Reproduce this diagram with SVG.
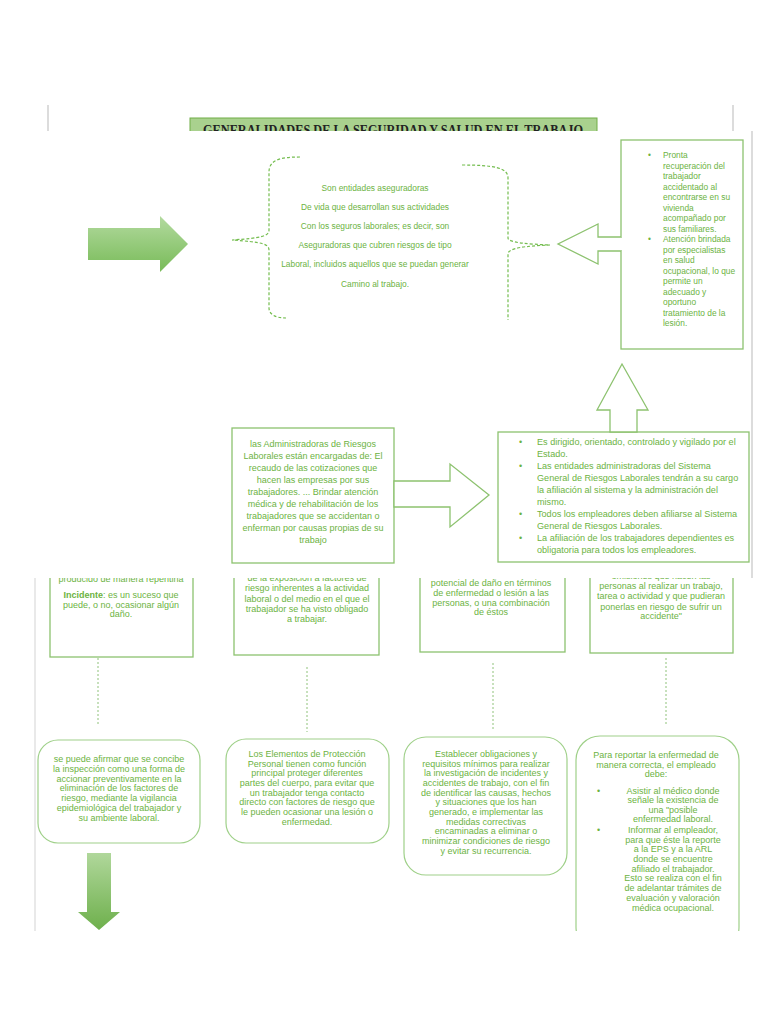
<svg xmlns="http://www.w3.org/2000/svg" width="768" height="1024" viewBox="0 0 768 1024">
<defs>
<style>
.t{font-family:"Liberation Sans",Arial,sans-serif;fill:#6cb33f;text-anchor:middle}
.tl{font-family:"Liberation Sans",Arial,sans-serif;fill:#6cb33f;text-anchor:start}
.box{fill:#fff;stroke:#8dc26f;stroke-width:1.3}
.rbox{fill:#fff;stroke:#9fd089;stroke-width:1.2}
.dot{stroke:#8fc27a;stroke-width:1;stroke-dasharray:2,2;fill:none}
.out{fill:#fff;stroke:#8dc26f;stroke-width:1.3}
.edge{stroke:#dcdcdc;stroke-width:2}
</style>
<linearGradient id="gr" x1="0" y1="0" x2="0" y2="1">
<stop offset="0" stop-color="#b3da9f"/><stop offset="1" stop-color="#78bb58"/>
</linearGradient>
<linearGradient id="gd" x1="0" y1="0" x2="0" y2="1">
<stop offset="0" stop-color="#b0d79b"/><stop offset="1" stop-color="#6eb04c"/>
</linearGradient>
<clipPath id="page"><rect x="0" y="0" width="768" height="931"/></clipPath>
</defs>
<rect width="768" height="1024" fill="#fff"/>

<g id="page-edges">
<line class="edge" x1="48" y1="105" x2="48" y2="131"/>
<line class="edge" x1="733" y1="105" x2="733" y2="131"/>
<line x1="35" y1="578" x2="35" y2="931" stroke="#e2e2e2" stroke-width="1.5"/>
</g>

<g id="title">
<rect x="190" y="118" width="407" height="20" fill="#a9d18e" stroke="#70ad47" stroke-width="1"/>
<text x="203" y="135" font-family="'Liberation Serif',serif" font-weight="bold" font-size="15" fill="#222" textLength="380" lengthAdjust="spacingAndGlyphs">GENERALIDADES DE LA SEGURIDAD Y SALUD EN EL TRABAJO</text>
</g>

<g clip-path="url(#page)">
<g id="node-accidente">
<rect class="box" x="50" y="520" width="143" height="137"/>
<text class="t" font-size="9" x="121" y="582">producido de manera repentina</text>
<text class="t" font-size="9" x="121" y="598"><tspan font-weight="bold">Incidente</tspan>: es un suceso que</text>
<text class="t" font-size="9" x="121" y="608">puede, o no, ocasionar algún</text>
<text class="t" font-size="9" x="121" y="617">daño.</text>
</g>
<g id="node-enfermedad">
<rect class="box" x="234" y="520" width="145" height="135"/>
<text class="t" font-size="9" x="307" y="581">de la exposición a factores de</text>
<text class="t" font-size="9" x="307" y="591">riesgo inherentes  a la actividad</text>
<text class="t" font-size="9" x="307" y="602">laboral o del medio en el que el</text>
<text class="t" font-size="9" x="307" y="612">trabajador se ha visto obligado</text>
<text class="t" font-size="9" x="307" y="622">a trabajar.</text>
</g>
<g id="node-peligro">
<rect class="box" x="420" y="520" width="145" height="132"/>
<text class="t" font-size="9" x="491" y="586">potencial de daño en términos</text>
<text class="t" font-size="9" x="491" y="596">de enfermedad o lesión a las</text>
<text class="t" font-size="9" x="491" y="606">personas, o una combinación</text>
<text class="t" font-size="9" x="491" y="615">de éstos</text>
</g>
<g id="node-acto-inseguro">
<rect class="box" x="590" y="520" width="143" height="133"/>
<text class="t" font-size="9" x="661" y="579">omisiones que hacen las</text>
<text class="t" font-size="9" x="661" y="589">personas al realizar  un trabajo,</text>
<text class="t" font-size="9" x="661" y="599">tarea o actividad y que pudieran</text>
<text class="t" font-size="9" x="661" y="610">ponerlas en riesgo de sufrir un</text>
<text class="t" font-size="9" x="661" y="619">accidente"</text>
</g>

<g id="node-inspeccion">
<rect class="rbox" x="38" y="740" width="162" height="103" rx="20"/>
<text class="t" font-size="9" x="119" y="762">se puede afirmar que se concibe</text>
<text class="t" font-size="9" x="119" y="772">la inspección como una forma de</text>
<text class="t" font-size="9" x="119" y="782">accionar preventivamente en la</text>
<text class="t" font-size="9" x="119" y="791">eliminación de los factores de</text>
<text class="t" font-size="9" x="119" y="801">riesgo, mediante la vigilancia</text>
<text class="t" font-size="9" x="119" y="811">epidemiológica del trabajador y</text>
<text class="t" font-size="9" x="119" y="821">su ambiente laboral.</text>
</g>
<g id="node-epp">
<rect class="rbox" x="226" y="739" width="163" height="104" rx="20"/>
<text class="t" font-size="9" x="307" y="757">Los Elementos de Protección</text>
<text class="t" font-size="9" x="307" y="767">Personal tienen como función</text>
<text class="t" font-size="9" x="307" y="776">principal proteger diferentes</text>
<text class="t" font-size="9" x="307" y="786">partes del cuerpo, para evitar que</text>
<text class="t" font-size="9" x="307" y="796">un trabajador tenga contacto</text>
<text class="t" font-size="9" x="307" y="805">directo con factores de riesgo que</text>
<text class="t" font-size="9" x="307" y="815">le pueden ocasionar una lesión o</text>
<text class="t" font-size="9" x="307" y="825">enfermedad.</text>
</g>
<g id="node-investigacion">
<rect class="rbox" x="404" y="737" width="163" height="138" rx="22"/>
<text class="t" font-size="9" x="486" y="757">Establecer obligaciones y</text>
<text class="t" font-size="9" x="486" y="767">requisitos mínimos para realizar</text>
<text class="t" font-size="9" x="486" y="776">la investigación de incidentes y</text>
<text class="t" font-size="9" x="486" y="786">accidentes de trabajo, con el fin</text>
<text class="t" font-size="9" x="486" y="796">de identificar las causas, hechos</text>
<text class="t" font-size="9" x="486" y="805">y situaciones que los han</text>
<text class="t" font-size="9" x="486" y="815">generado, e implementar las</text>
<text class="t" font-size="9" x="486" y="825">medidas correctivas</text>
<text class="t" font-size="9" x="486" y="834">encaminadas  a eliminar  o</text>
<text class="t" font-size="9" x="486" y="844">minimizar  condiciones de riesgo</text>
<text class="t" font-size="9" x="486" y="854">y evitar su recurrencia.</text>
</g>
<g id="node-reporte">
<rect class="rbox" x="576" y="736" width="163" height="215" rx="24"/>
<text class="t" font-size="9" x="656" y="758">Para reportar la enfermedad de</text>
<text class="t" font-size="9" x="656" y="768">manera correcta, el empleado</text>
<text class="t" font-size="9" x="656" y="777">debe:</text>
<text class="tl" font-size="9" x="597" y="794">•</text>
<text class="t" font-size="9" x="673" y="794">Asistir al médico donde</text>
<text class="t" font-size="9" x="673" y="803">señale la existencia de</text>
<text class="t" font-size="9" x="673" y="813">una "posible</text>
<text class="t" font-size="9" x="673" y="822">enfermedad laboral.</text>
<text class="tl" font-size="9" x="597" y="833">•</text>
<text class="t" font-size="9" x="673" y="833">Informar al empleador,</text>
<text class="t" font-size="9" x="673" y="843">para que éste la reporte</text>
<text class="t" font-size="9" x="673" y="852">a la EPS y a la ARL</text>
<text class="t" font-size="9" x="673" y="862">donde se encuentre</text>
<text class="t" font-size="9" x="673" y="872">afiliado el trabajador.</text>
<text class="t" font-size="9" x="673" y="881">Esto se realiza  con el fin</text>
<text class="t" font-size="9" x="673" y="891">de adelantar trámites de</text>
<text class="t" font-size="9" x="673" y="901">evaluación y valoración</text>
<text class="t" font-size="9" x="673" y="911">médica ocupacional.</text>
</g>
</g>

<g id="overlay-panel">
<rect x="36" y="131" width="716" height="447" fill="#fff"/>
<line class="edge" x1="752" y1="131" x2="752" y2="578" stroke-width="3"/>
</g>

<g id="node-aseguradoras">
<path d="M300,157 C280,157 269,160 269,172 L269,230 C269,236 262,238 232,240 C262,242 269,244 269,250 L269,308 C269,314 275,318 286,318" fill="none" stroke="#74bd4f" stroke-width="1.2" stroke-dasharray="3,2"/>
<path d="M462,165 C495,165 508,168 508,178 L508,238 C508,243 530,244 550,245 C525,246 508,248 508,254 L508,320" fill="none" stroke="#74bd4f" stroke-width="1.2" stroke-dasharray="3,2"/>
<text class="t" font-size="8.4" x="375" y="191">Son entidades aseguradoras</text>
<text class="t" font-size="8.4" x="375" y="210">De vida que desarrollan sus actividades</text>
<text class="t" font-size="8.4" x="375" y="229">Con los seguros laborales; es decir, son</text>
<text class="t" font-size="8.4" x="375" y="248">Aseguradoras que cubren riesgos de tipo</text>
<text class="t" font-size="8.4" x="375" y="267">Laboral, incluidos aquellos que se puedan generar</text>
<text class="t" font-size="8.4" x="375" y="287">Camino al trabajo.</text>
</g>

<g id="node-beneficios">
<rect class="out" x="621" y="140" width="122" height="209"/>
<path d="M621,237 L598,237 L598,224 L558,244 L598,264 L598,251 L621,251" class="out"/>
<line x1="621" y1="238" x2="621" y2="250" stroke="#fff" stroke-width="2"/>
<text class="tl" font-size="8.4" x="648" y="158">•</text>
<text class="tl" font-size="8.4" x="663" y="158">Pronta</text>
<text class="tl" font-size="8.4" x="663" y="169">recuperación del</text>
<text class="tl" font-size="8.4" x="663" y="179">trabajador</text>
<text class="tl" font-size="8.4" x="663" y="190">accidentado al</text>
<text class="tl" font-size="8.4" x="663" y="200">encontrarse en su</text>
<text class="tl" font-size="8.4" x="663" y="211">vivienda</text>
<text class="tl" font-size="8.4" x="663" y="221">acompañado por</text>
<text class="tl" font-size="8.4" x="663" y="232">sus familiares.</text>
<text class="tl" font-size="8.4" x="648" y="242">•</text>
<text class="tl" font-size="8.4" x="663" y="242">Atención brindada</text>
<text class="tl" font-size="8.4" x="663" y="253">por especialistas</text>
<text class="tl" font-size="8.4" x="663" y="263">en salud</text>
<text class="tl" font-size="8.4" x="663" y="274">ocupacional, lo que</text>
<text class="tl" font-size="8.4" x="663" y="284">permite un</text>
<text class="tl" font-size="8.4" x="663" y="295">adecuado y</text>
<text class="tl" font-size="8.4" x="663" y="305">oportuno</text>
<text class="tl" font-size="8.4" x="663" y="316">tratamiento de la</text>
<text class="tl" font-size="8.4" x="663" y="326">lesión.</text>
</g>

<g id="node-funciones-arl">
<rect class="out" x="232" y="428" width="162" height="135"/>
<text class="t" font-size="9" x="313" y="447">las Administradoras de Riesgos</text>
<text class="t" font-size="9" x="313" y="459">Laborales están encargadas de: El</text>
<text class="t" font-size="9" x="313" y="471">recaudo de las cotizaciones que</text>
<text class="t" font-size="9" x="313" y="483">hacen las empresas por sus</text>
<text class="t" font-size="9" x="313" y="495">trabajadores. ... Brindar atención</text>
<text class="t" font-size="9" x="313" y="507">médica y de rehabilitación de los</text>
<text class="t" font-size="9" x="313" y="519">trabajadores que se accidentan o</text>
<text class="t" font-size="9" x="313" y="531">enferman por causas propias de su</text>
<text class="t" font-size="9" x="313" y="543">trabajo</text>
</g>

<g id="node-sistema">
<rect class="out" x="498" y="432" width="251" height="130"/>
<g font-size="9.1">
<text class="tl" x="519" y="445">•</text>
<text class="tl" x="537" y="445">Es dirigido, orientado, controlado y vigilado por el</text>
<text class="tl" x="537" y="457">Estado.</text>
<text class="tl" x="519" y="469">•</text>
<text class="tl" x="537" y="469">Las entidades administradoras del Sistema</text>
<text class="tl" x="537" y="481">General de Riesgos Laborales tendrán a su cargo</text>
<text class="tl" x="537" y="493">la afiliación al sistema y la administración del</text>
<text class="tl" x="537" y="505">mismo.</text>
<text class="tl" x="519" y="517">•</text>
<text class="tl" x="537" y="517">Todos los empleadores deben afiliarse al Sistema</text>
<text class="tl" x="537" y="529">General de Riesgos Laborales.</text>
<text class="tl" x="519" y="541">•</text>
<text class="tl" x="537" y="541">La afiliación de los trabajadores dependientes es</text>
<text class="tl" x="537" y="553">obligatoria para todos los empleadores.</text>
</g>
</g>

<g id="connectors">
<polygon points="88,228 160,228 160,216 188,244 160,272 160,260 88,260" fill="url(#gr)"/>
<polygon points="610,432 610,410 597,410 622,364 648,410 637,410 637,432" class="out"/>
<polygon points="394,481 450,481 450,464 489,495 450,527 450,507 394,507" class="out"/>
<line class="dot" x1="98" y1="658" x2="98" y2="725"/>
<line class="dot" x1="307" y1="667" x2="307" y2="732"/>
<line class="dot" x1="493" y1="663" x2="493" y2="729"/>
<line class="dot" x1="666" y1="658" x2="666" y2="725"/>
<polygon points="87,853 111,853 111,912 120,912 99,930 78,912 87,912" fill="url(#gd)"/>
</g>
</svg>
